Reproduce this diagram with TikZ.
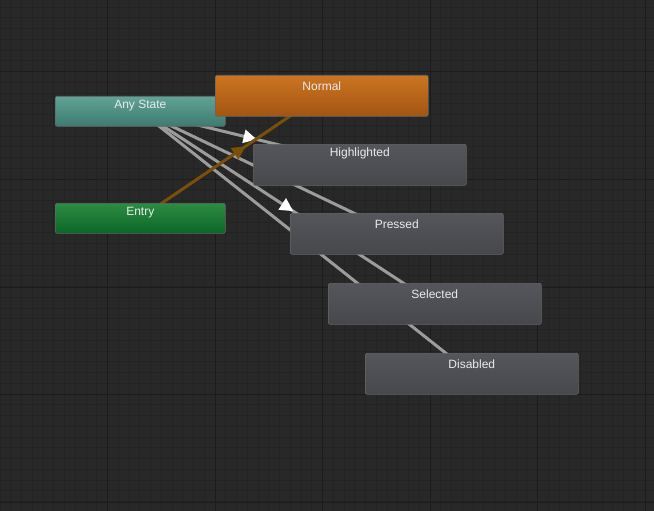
\documentclass[tikz,border=0pt]{standalone}
\usepackage{fontspec}
\setmainfont{Liberation Sans}
\usetikzlibrary{arrows.meta,decorations.markings}
\definecolor{bg}{HTML}{282828}
\definecolor{gridminor}{HTML}{232323}
\definecolor{gridmajor}{HTML}{1C1C1C}
\definecolor{grayA}{HTML}{55565B}
\definecolor{grayB}{HTML}{47484C}
\definecolor{tealA}{HTML}{5FA496}
\definecolor{tealB}{HTML}{3E7A70}
\definecolor{orA}{HTML}{CC7522}
\definecolor{orB}{HTML}{A25513}
\definecolor{grA}{HTML}{2C8C42}
\definecolor{grB}{HTML}{0B6628}
\definecolor{trans}{HTML}{9C9C9C}
\definecolor{entrytrans}{HTML}{7A4F0A}
\tikzset{
  x=1pt,y=-1pt,
  statebox/.style={draw=black!60,line width=0.6pt,rounded corners=2pt,anchor=north west,inner sep=0pt},
  statelabel/.style={font=\fontsize{12}{14}\selectfont,text=white!92!black,yshift=-19pt},
  graystate/.style={statebox,top color=grayA,bottom color=grayB,minimum width=213pt,minimum height=41pt},
  transline/.style={draw=trans,line width=3pt,
    postaction={decorate,decoration={markings,mark=at position 0.5 with {\fill[white] (7pt,0)--(-6pt,7pt)--(-6pt,-7pt)--cycle;}}}},
  entryline/.style={draw=entrytrans,line width=3pt,
    postaction={decorate,decoration={markings,mark=at position 0.55 with {\fill[entrytrans] (7pt,0)--(-6pt,7pt)--(-6pt,-7pt)--cycle;}}}},
}
\begin{document}
\begin{tikzpicture}
\fill[bg] (0,0) rectangle (654,511);
\useasboundingbox (0,0) rectangle (654,511);
\foreach \i in {0,...,61} {\draw[gridminor,line width=0.6pt] ({\i*10.75},0)--({\i*10.75},511);}
\foreach \i in {0,...,48} {\draw[gridminor,line width=0.6pt] (0,{7+\i*10.75})--(654,{7+\i*10.75});}
\foreach \i in {1,...,6} {\draw[gridmajor,line width=1pt] ({\i*107.5},0)--({\i*107.5},511);}
\foreach \i in {0,...,4} {\draw[gridmajor,line width=1pt] (0,{72+\i*107.5})--(654,{72+\i*107.5});}
\coordinate (anyc) at (140,111);
\coordinate (hlc) at (359.5,164.5);
\coordinate (prc) at (396.5,233.5);
\coordinate (sec) at (434.5,303.5);
\coordinate (dic) at (471.5,373.5);
\coordinate (entc) at (140,218);
\coordinate (norc) at (321,95);
\draw[transline] (anyc) -- (hlc);
\draw[transline] (anyc) -- (prc);
\draw[transline] (anyc) -- (sec);
\draw[transline] (anyc) -- (dic);
\draw[entryline] (entc) -- (norc);
\node[statebox,top color=tealA,bottom color=tealB,minimum width=170pt,minimum height=30pt,
  label={[statelabel]north:Any State}] (any) at (55,96) {};
\node[statebox,top color=grA,bottom color=grB,minimum width=170pt,minimum height=30pt,
  label={[statelabel]north:Entry}] (entry) at (55,203) {};
\node[statebox,top color=orA,bottom color=orB,minimum width=213pt,minimum height=41pt,
  label={[statelabel]north:Normal}] (normal) at (215,75) {};
\node[graystate,label={[statelabel]north:Highlighted}] (hl) at (253,144) {};
\node[graystate,label={[statelabel]north:Pressed}] (pr) at (290,213) {};
\node[graystate,label={[statelabel]north:Selected}] (se) at (328,283) {};
\node[graystate,label={[statelabel]north:Disabled}] (di) at (365,353) {};
\end{tikzpicture}
\end{document}
